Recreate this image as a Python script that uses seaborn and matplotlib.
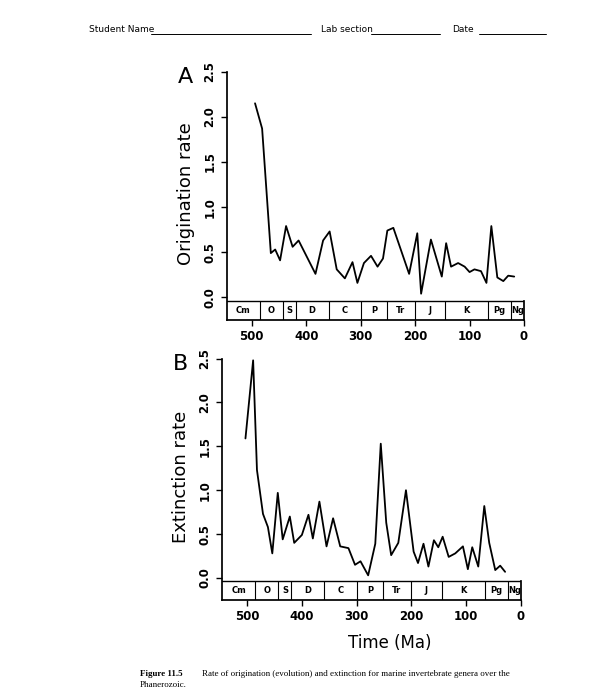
import matplotlib
matplotlib.use("Agg")
import matplotlib.pyplot as plt
import seaborn as sns
import pandas as pd

orig_t = [494,481,465,457,448,437,425,414,383,369,357,344,329,315,306,294,281,269,259,251,240,211,196,189,171,151,143,134,121,109,100,91,79,69,60,49,38,29,18]
orig_v = [2.15,1.87,0.49,0.53,0.41,0.79,0.56,0.63,0.26,0.63,0.73,0.31,0.21,0.39,0.16,0.38,0.46,0.34,0.43,0.74,0.77,0.26,0.71,0.04,0.64,0.23,0.60,0.34,0.38,0.34,0.28,0.31,0.29,0.16,0.79,0.22,0.18,0.24,0.23]
ext_t = [503,489,482,471,462,454,444,435,422,414,400,388,380,368,355,343,330,315,303,293,279,266,256,246,237,224,210,196,188,178,169,159,151,143,132,120,106,97,89,78,67,58,47,38,29]
ext_v = [1.59,2.48,1.23,0.73,0.58,0.28,0.97,0.44,0.70,0.40,0.49,0.72,0.45,0.87,0.36,0.68,0.36,0.34,0.15,0.19,0.03,0.39,1.53,0.63,0.26,0.40,1.00,0.30,0.17,0.39,0.13,0.43,0.35,0.47,0.24,0.28,0.36,0.10,0.35,0.13,0.82,0.40,0.09,0.14,0.07]
periods = ["Cm","O","S","D","C","P","Tr","J","K","Pg","Ng"]
bounds = [546,485,443,419,359,299,252,201,145,66,23,0]
yticks = [0.0,0.5,1.0,1.5,2.0,2.5]
xticks = [500,400,300,200,100,0]

sns.set_theme(style="ticks")
plt.rcParams['font.family'] = ['DejaVu Sans']
plt.rcParams['text.color'] = 'black'
plt.rcParams['axes.labelcolor'] = 'black'
plt.rcParams['xtick.color'] = 'black'
plt.rcParams['ytick.color'] = 'black'
fig = plt.figure(figsize=(6.03,7.0), dpi=100)

def panel(rect, t, v, label, letter):
    ax = fig.add_axes(rect)
    sns.lineplot(data=pd.DataFrame({"t": t, "v": v}), x="t", y="v", ax=ax, color="black", lw=1.3)
    ax.set_xlim(546, 0)
    ax.set_ylim(-0.25, 2.55)
    ax.set_yticks(yticks)
    ax.set_yticklabels([f"{y:.1f}" for y in yticks], rotation=90, va="center", fontsize=8.5, fontweight="bold")
    ax.set_xticks(xticks)
    ax.set_xticklabels([str(x) for x in xticks], fontsize=8.5, fontweight="bold")
    ax.tick_params(length=4, width=1, color="black")
    for s in ["top"]:
        ax.spines[s].set_visible(False)
    for s in ax.spines.values():
        s.set_color("black")
    ax.spines["left"].set_bounds(-0.25, 2.5)
    ax.spines["right"].set_bounds(-0.25, -0.04)
    ax.axhline(-0.04, color="black", lw=1)
    for i, p in enumerate(periods):
        if i > 0:
            ax.plot([bounds[i], bounds[i]], [-0.25, -0.04], color="black", lw=0.8)
        ax.text((bounds[i] + bounds[i+1]) / 2, -0.145, p, ha="center", va="center", fontsize=6, fontweight="bold")
    ax.set_xlabel("")
    ax.set_ylabel(label, fontsize=13, labelpad=6)
    ax.text(-0.14, 1.0, letter, transform=ax.transAxes, fontsize=16, ha="center", va="top")
    return ax

panel([0.376, 0.543, 0.493, 0.361], orig_t, orig_v, "Origination rate", "A")
panel([0.368, 0.143, 0.496, 0.351], ext_t, ext_v, "Extinction rate", "B")

fig.text(0.647, 0.074, "Time (Ma)", fontsize=12, ha="center")
fig.text(0.232, 0.034, "Figure 11.5", fontsize=6.5, fontweight="bold", family="Liberation Serif")
fig.text(0.335, 0.034, "Rate of origination (evolution) and extinction for marine invertebrate genera over the", fontsize=6.5, family="Liberation Serif")
fig.text(0.232, 0.018, "Phanerozoic.", fontsize=6.5, family="Liberation Serif")

fig.text(0.148, 0.954, "Student Name", fontsize=6.5)
fig.add_artist(plt.Line2D([0.25, 0.515], [0.952, 0.952], color="black", lw=0.7))
fig.text(0.533, 0.954, "Lab section", fontsize=6.5)
fig.add_artist(plt.Line2D([0.615, 0.73], [0.952, 0.952], color="black", lw=0.7))
fig.text(0.75, 0.954, "Date", fontsize=6.5)
fig.add_artist(plt.Line2D([0.795, 0.905], [0.952, 0.952], color="black", lw=0.7))

fig.savefig("out.png", dpi=100)
